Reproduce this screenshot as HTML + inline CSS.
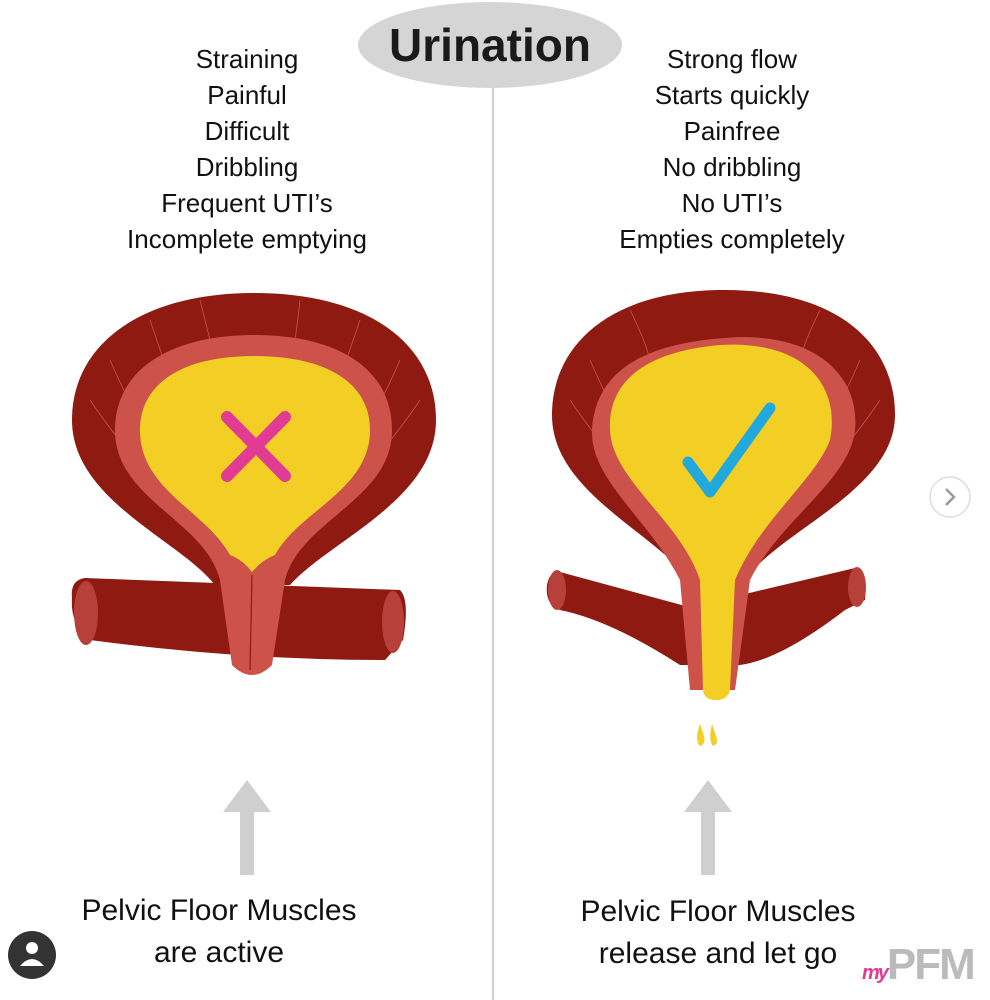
<!DOCTYPE html>
<html><head><meta charset="utf-8"><style>
html,body{margin:0;padding:0;background:#fff;}
body{width:990px;height:1000px;position:relative;overflow:hidden;font-family:"Liberation Sans",sans-serif;color:#111;}
.t{position:absolute;text-align:center;font-size:26px;line-height:36px;}
.b{position:absolute;text-align:center;font-size:30px;line-height:42px;}
</style></head><body>
<svg width="990" height="1000" style="position:absolute;left:0;top:0">
<line x1="493" y1="88" x2="493" y2="1000" stroke="#cfcfcf" stroke-width="2"/>
<ellipse cx="490" cy="45" rx="132" ry="43" fill="#d5d5d5"/>
<!-- LEFT -->
<path d="M72,598 Q70,580 85,578 L400,590 Q410,600 403,640 L385,660 Q240,660 90,640 Q70,625 72,598Z" fill="#8f1a12"/>
<ellipse cx="86" cy="613" rx="12" ry="32" fill="#b8403a"/>
<ellipse cx="393" cy="622" rx="11" ry="31" fill="#b8403a"/>
<path d="M254,293 C370,293 436,345 436,420 C436,500 330,540 290,585 L215,585 C180,540 72,500 72,420 C72,345 140,293 254,293Z" fill="#8f1a12"/>
<g stroke="#d9706a" stroke-width="0.8" fill="none" opacity="0.7">
<path d="M110,360 Q140,430 200,520"/><path d="M90,400 Q130,460 210,540"/><path d="M150,320 Q170,380 190,430"/>
<path d="M400,360 Q370,430 310,520"/><path d="M420,400 Q380,460 300,540"/><path d="M360,320 Q340,380 320,430"/>
<path d="M200,300 Q205,320 210,340"/><path d="M300,300 Q298,320 295,340"/>
</g>
<path d="M254,335 C340,335 392,370 392,430 C392,500 300,520 285,580 L272,665 Q252,685 232,665 L220,580 C205,520 115,500 115,430 C115,370 170,335 254,335Z" fill="#cc524a"/>
<path d="M254,356 C330,356 370,385 370,430 C370,490 300,510 275,555 Q262,560 252,572 Q243,560 230,555 C205,510 140,490 140,430 C140,385 180,356 254,356Z" fill="#f3cf25"/>
<path d="M252,575 L250,670" stroke="#8f1a12" stroke-width="1.2"/>
<g stroke="#e23b93" stroke-width="12" stroke-linecap="round"><line x1="227" y1="417" x2="285" y2="476"/><line x1="285" y1="417" x2="227" y2="476"/></g>
<!-- RIGHT -->
<path d="M547,585 Q550,570 560,572 L700,610 L720,600 L855,568 Q868,570 865,600 L845,610 Q780,660 740,665 L680,665 Q610,620 560,610 Q545,605 547,585Z" fill="#8f1a12"/>
<ellipse cx="557" cy="590" rx="9" ry="20" fill="#b8403a"/>
<ellipse cx="857" cy="587" rx="9" ry="20" fill="#b8403a"/>
<path d="M724,290 C840,290 895,345 895,415 C895,490 780,530 745,580 L690,580 C650,530 552,490 552,415 C552,345 610,290 724,290Z" fill="#8f1a12"/>
<g stroke="#d9706a" stroke-width="0.8" fill="none" opacity="0.7">
<path d="M590,360 Q620,430 680,520"/><path d="M570,400 Q610,460 690,540"/><path d="M630,310 Q645,340 650,360"/>
<path d="M860,360 Q830,430 770,520"/><path d="M880,400 Q840,460 760,540"/><path d="M820,310 Q805,340 800,360"/>
</g>
<path d="M724,338 C820,330 860,380 855,430 C850,480 780,520 750,580 L735,690 L690,690 L680,580 C650,520 590,480 592,430 C595,380 630,345 724,338Z" fill="#cc524a"/>
<path d="M720,345 C810,340 840,390 830,440 C815,480 760,520 735,580 L730,690 Q728,700 716,700 Q704,700 703,690 L700,580 C680,520 612,480 610,430 C608,385 640,352 720,345Z" fill="#f3cf25"/>
<path d="M700,724 Q694,740 700,746 Q706,744 704,736Z M712,724 Q708,740 713,746 Q719,744 716,736Z" fill="#f3cf25"/>
<path d="M688,462 L710,492 L770,408" stroke="#21a8dc" stroke-width="11" fill="none" stroke-linecap="round" stroke-linejoin="round"/>
<g fill="#cfcfcf">
<polygon points="247,780 271,812 254,812 254,875 240,875 240,812 223,812"/>
<polygon points="708,780 732,812 715,812 715,875 701,875 701,812 684,812"/>
</g>
<circle cx="32" cy="955" r="24" fill="#333"/>
<circle cx="32" cy="948" r="6" fill="#fff"/><path d="M20,966 Q32,952 44,966Z" fill="#fff"/>
<circle cx="950" cy="497" r="20" fill="#fff" stroke="#ddd" stroke-width="1.5"/>
<path d="M946,489 L954,497 L946,505" stroke="#999" stroke-width="2.5" fill="none"/>
</svg>
<div style="position:absolute;left:358px;top:16px;width:264px;text-align:center;font-size:46px;font-weight:bold;line-height:58px;color:#1a1a1a;">Urination</div>
<div class="t" style="left:77px;top:41px;width:340px;">Straining<br>Painful<br>Difficult<br>Dribbling<br>Frequent UTI’s<br>Incomplete emptying</div>
<div class="t" style="left:562px;top:41px;width:340px;">Strong flow<br>Starts quickly<br>Painfree<br>No dribbling<br>No UTI’s<br>Empties completely</div>
<div class="b" style="left:39px;top:890px;width:360px;">Pelvic Floor Muscles<br>are active</div>
<div class="b" style="left:538px;top:891px;width:360px;">Pelvic Floor Muscles<br>release and let go</div>
<div style="position:absolute;left:862px;top:940px;font-size:44px;line-height:50px;color:#bbb;font-weight:bold;letter-spacing:-2px;"><span style="font-size:20px;color:#e23b93;font-style:italic;">my</span>PFM</div>
</body></html>
